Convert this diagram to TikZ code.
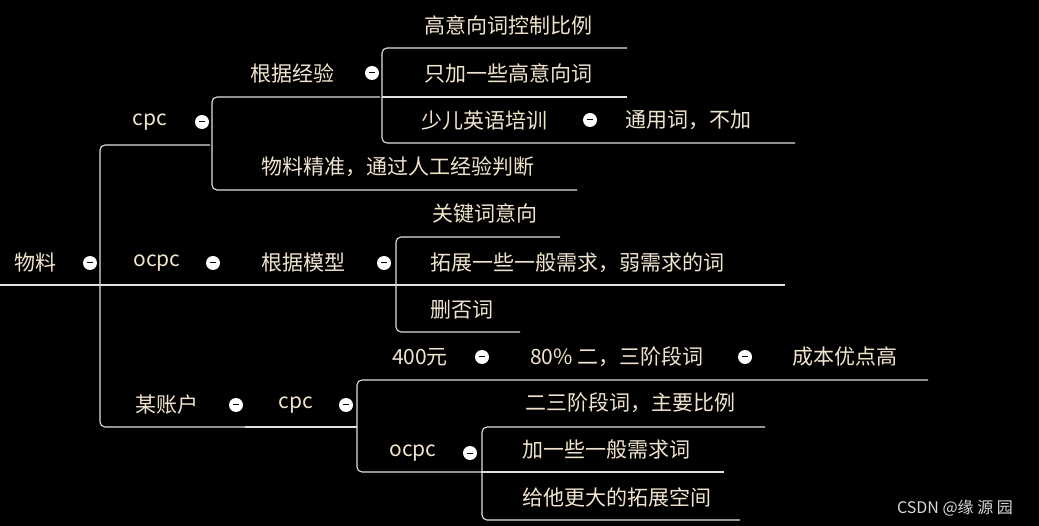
\documentclass[tikz,border=0pt]{standalone}
\usepackage{fontspec}
\newfontfamily\cjk{Noto Sans CJK SC}
\begin{document}
\begin{tikzpicture}[x=1pt,y=-1pt,
  txt/.style={text=tcol,font=\cjk\fontsize{21}{24}\selectfont,inner sep=0pt},
  ln/.style={draw=lcol,line width=1.1pt,rounded corners=5pt},
  tog/.style={circle,fill=white,minimum size=14pt,inner sep=0pt,
    path picture={\draw[black,line width=1pt] ([xshift=-3pt]path picture bounding box.center)--([xshift=3pt]path picture bounding box.center);}}]
\definecolor{tcol}{RGB}{240,228,205}
\definecolor{lcol}{RGB}{225,225,225}
\fill[black] (0,0) rectangle (1039,526);
\useasboundingbox (0,0) rectangle (1039,526);
% root
\node[txt] (wl) at (35,263) {物料};
\node[tog] (t0) at (90,263) {};
% level 1
\node[txt] (cpc1) at (150,122) {cpc};
\node[tog] (t1) at (202,122) {};
\node[txt] (ocpc1) at (157,263) {ocpc};
\node[tog] (t2) at (213,263) {};
\node[txt] (zh) at (167,405) {某账户};
\node[tog] (t3) at (236,405) {};
% cpc branch
\node[txt] (jy) at (292,73) {根据经验};
\node[tog] (t4) at (372,73) {};
\node[txt] (wljz) at (398,167) {物料精准，通过人工经验判断};
\node[txt] (a1) at (508,25) {高意向词控制比例};
\node[txt] (a2) at (508,73) {只加一些高意向词};
\node[txt] (a3) at (484,120) {少儿英语培训};
\node[tog] (t5) at (590,120) {};
\node[txt] (a4) at (688,120) {通用词，不加};
% ocpc branch
\node[txt] (mx) at (303,263) {根据模型};
\node[tog] (t6) at (384,263) {};
\node[txt] (b1) at (485,213) {关键词意向};
\node[txt] (b2) at (577,263) {拓展一些一般需求，弱需求的词};
\node[txt] (b3) at (462,310) {删否词};
% account branch
\node[txt] (cpc2) at (296,405) {cpc};
\node[tog] (t7) at (346,405) {};
\node[txt] (c1) at (420,357) {400元};
\node[tog] (t8) at (482,357) {};
\node[txt] (c2) at (617,357) {80\% 二，三阶段词};
\node[tog] (t9) at (745,357) {};
\node[txt] (c3) at (845,357) {成本优点高};
\node[txt] (ocpc2) at (413,453) {ocpc};
\node[tog] (t10) at (470,453) {};
\node[txt] (d1) at (630,403) {二三阶段词，主要比例};
\node[txt] (d2) at (606,450) {加一些一般需求词};
\node[txt] (d3) at (617,497) {给他更大的拓展空间};
\node[text=white!85!black,font=\cjk\fontsize{16}{18}\selectfont,inner sep=0pt] (wm) at (955,508) {CSDN @缘 源 园};
% connectors
\draw[ln] (0,285) -- (785,285);
\draw[ln] (210,145) -- (100,145) -- (100,427) -- (245,427);
\draw[ln] (577,190) -- (212,190) -- (212,97) -- (380,97);
\draw[ln] (627,48) -- (382,48) -- (382,143) -- (795,143);
\draw[ln] (382,97) -- (627,97);
\draw[ln] (560,237) -- (396,237) -- (396,332) -- (520,332);
\draw[ln] (245,427) -- (357,427);
\draw[ln] (928,380) -- (357,380) -- (357,472) -- (482,472);
\draw[ln] (765,427) -- (482,427) -- (482,520) -- (740,520);
\draw[ln] (482,472) -- (724,472);
\end{tikzpicture}
\end{document}
